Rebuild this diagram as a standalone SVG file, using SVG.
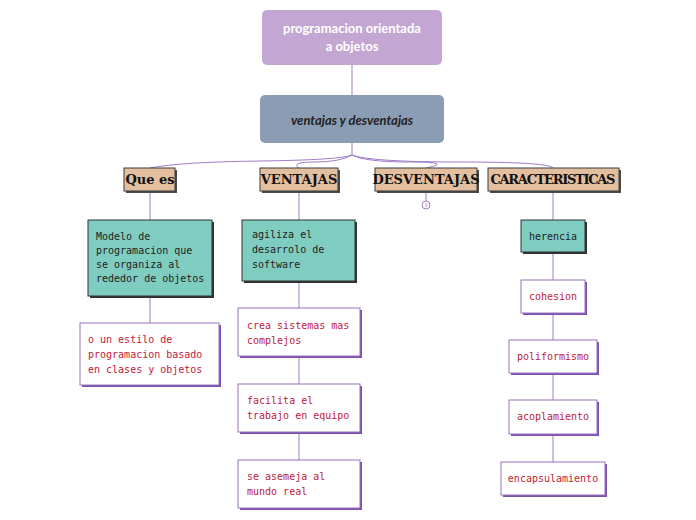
<svg xmlns="http://www.w3.org/2000/svg" width="696" height="520" viewBox="0 0 696 520">
<style>
.cat{fill:#e3bfa0;stroke:#3a3a3a;stroke-width:1}
.catsh{fill:#4a4a4a}
.cattx{font-family:"DejaVu Serif",serif;font-weight:bold;font-size:13px;fill:#111;text-anchor:middle}
.g{fill:#7fcdc0;stroke:#333;stroke-width:1}
.gsh{fill:#333}
.w{fill:#fff;stroke:#9a70c0;stroke-width:1}
.wsh{fill:#7a50a8}
.t{font-family:"DejaVu Sans Mono",monospace;font-size:10px;fill:#222}
.r{font-family:"DejaVu Sans Mono",monospace;font-size:10px;fill:#c0203a}
.c{fill:none;stroke:#a07cc8;stroke-width:1}
</style>
<rect width="696" height="520" fill="#fff"/>
<g id="connectors">
<path class="c" d="M352 65V95" stroke="#8a4ab0" stroke-width="2"/>
<path class="c" d="M352 143V155" stroke="#8a4ab0" stroke-width="1.5"/>
<path class="c" d="M352 155Q340 160 260 161T150 168"/>
<path class="c" d="M352 155Q340 162 315 162T299 168"/>
<path class="c" d="M352 155Q365 162 410 162T426 168"/>
<path class="c" d="M352 155Q370 162 460 162T553 168"/>
<path class="c" d="M150 191V220M150 296V323M299 191V220M299 281V308M299 356V384M299 432V460M426 191V201M553 191V220M553 252V280M553 313V340M553 373V400M553 434V462"/>
<circle cx="426" cy="205" r="4" fill="#fff" stroke="#a07cc8"/>
<text x="426" y="207" font-family="DejaVu Sans" font-size="5" fill="#a07cc8" text-anchor="middle">3</text>
</g>
<g id="root"><rect x="262" y="10" width="180" height="55" rx="5" fill="#c3a6d2"/>
<text x="352" y="33" font-family="Lato,sans-serif" font-weight="bold" font-size="13" fill="#fff" text-anchor="middle">programacion orientada</text>
<text x="352" y="51" font-family="Lato,sans-serif" font-weight="bold" font-size="13" fill="#fff" text-anchor="middle">a objetos</text></g>
<g id="ventdesv"><rect x="260" y="95" width="184" height="48" rx="5" fill="#8a9db5"/>
<text x="352" y="125" font-family="Lato,sans-serif" font-style="italic" font-weight="bold" font-size="13" fill="#222" text-anchor="middle">ventajas y desventajas</text></g>
<g id="quees"><rect class="catsh" x="126" y="170" width="51" height="23"/><rect class="cat" x="124" y="168" width="51" height="23"/><text class="cattx" x="150" y="184">Que es</text></g>
<g id="ventajas"><rect class="catsh" x="262" y="170" width="78" height="23"/><rect class="cat" x="260" y="168" width="78" height="23"/><text class="cattx" x="299" y="184">VENTAJAS</text></g>
<g id="desventajas"><rect class="catsh" x="377" y="170" width="102" height="23"/><rect class="cat" x="375" y="168" width="102" height="23"/><text class="cattx" x="426" y="184">DESVENTAJAS</text></g>
<g id="caract"><rect class="catsh" x="490" y="170" width="131" height="23"/><rect class="cat" x="488" y="168" width="131" height="23"/><text class="cattx" x="553" y="184" textLength="125">CARACTERISTICAS</text></g>
<g id="modelo"><rect class="gsh" x="90" y="222" width="124" height="76"/><rect class="g" x="88" y="220" width="124" height="76"/>
<text class="t" x="96" y="240">Modelo de</text><text class="t" x="96" y="254">programacion que</text><text class="t" x="96" y="268">se organiza al</text><text class="t" x="96" y="282">rededor de objetos</text></g>
<g id="agiliza"><rect class="gsh" x="244" y="222" width="113" height="61"/><rect class="g" x="242" y="220" width="113" height="61"/>
<text class="t" x="252" y="238">agiliza el</text><text class="t" x="252" y="253">desarrolo de</text><text class="t" x="252" y="268">software</text></g>
<g id="herencia"><rect class="gsh" x="523" y="222" width="64" height="32"/><rect class="g" x="521" y="220" width="64" height="32"/><text class="t" x="553" y="240" text-anchor="middle">herencia</text></g>
<g id="estilo"><rect class="wsh" x="82" y="325" width="139" height="62"/><rect class="w" x="80" y="323" width="139" height="62"/>
<text class="r" x="88" y="343">o un estilo de</text><text class="r" x="88" y="358">programacion basado</text><text class="r" x="88" y="373">en clases y objetos</text></g>
<g id="crea"><rect class="wsh" x="240" y="310" width="122" height="48"/><rect class="w" x="238" y="308" width="122" height="48"/>
<text class="r" x="247" y="329">crea sistemas mas</text><text class="r" x="247" y="344">complejos</text></g>
<g id="facilita"><rect class="wsh" x="240" y="386" width="122" height="48"/><rect class="w" x="238" y="384" width="122" height="48"/>
<text class="r" x="247" y="404">facilita el</text><text class="r" x="247" y="419">trabajo en equipo</text></g>
<g id="asemeja"><rect class="wsh" x="240" y="462" width="122" height="48"/><rect class="w" x="238" y="460" width="122" height="48"/>
<text class="r" x="247" y="480">se asemeja al</text><text class="r" x="247" y="495">mundo real</text></g>
<g id="cohesion"><rect class="wsh" x="523" y="282" width="64" height="33"/><rect class="w" x="521" y="280" width="64" height="33"/><text class="r" x="553" y="300" text-anchor="middle">cohesion</text></g>
<g id="poli"><rect class="wsh" x="511" y="342" width="88" height="33"/><rect class="w" x="509" y="340" width="88" height="33"/><text class="r" x="553" y="360" text-anchor="middle">poliformismo</text></g>
<g id="acop"><rect class="wsh" x="511" y="402" width="88" height="34"/><rect class="w" x="509" y="400" width="88" height="34"/><text class="r" x="553" y="420" text-anchor="middle">acoplamiento</text></g>
<g id="encap"><rect class="wsh" x="503" y="464" width="104" height="33"/><rect class="w" x="501" y="462" width="104" height="33"/><text class="r" x="553" y="482" text-anchor="middle">encapsulamiento</text></g>
</svg>
